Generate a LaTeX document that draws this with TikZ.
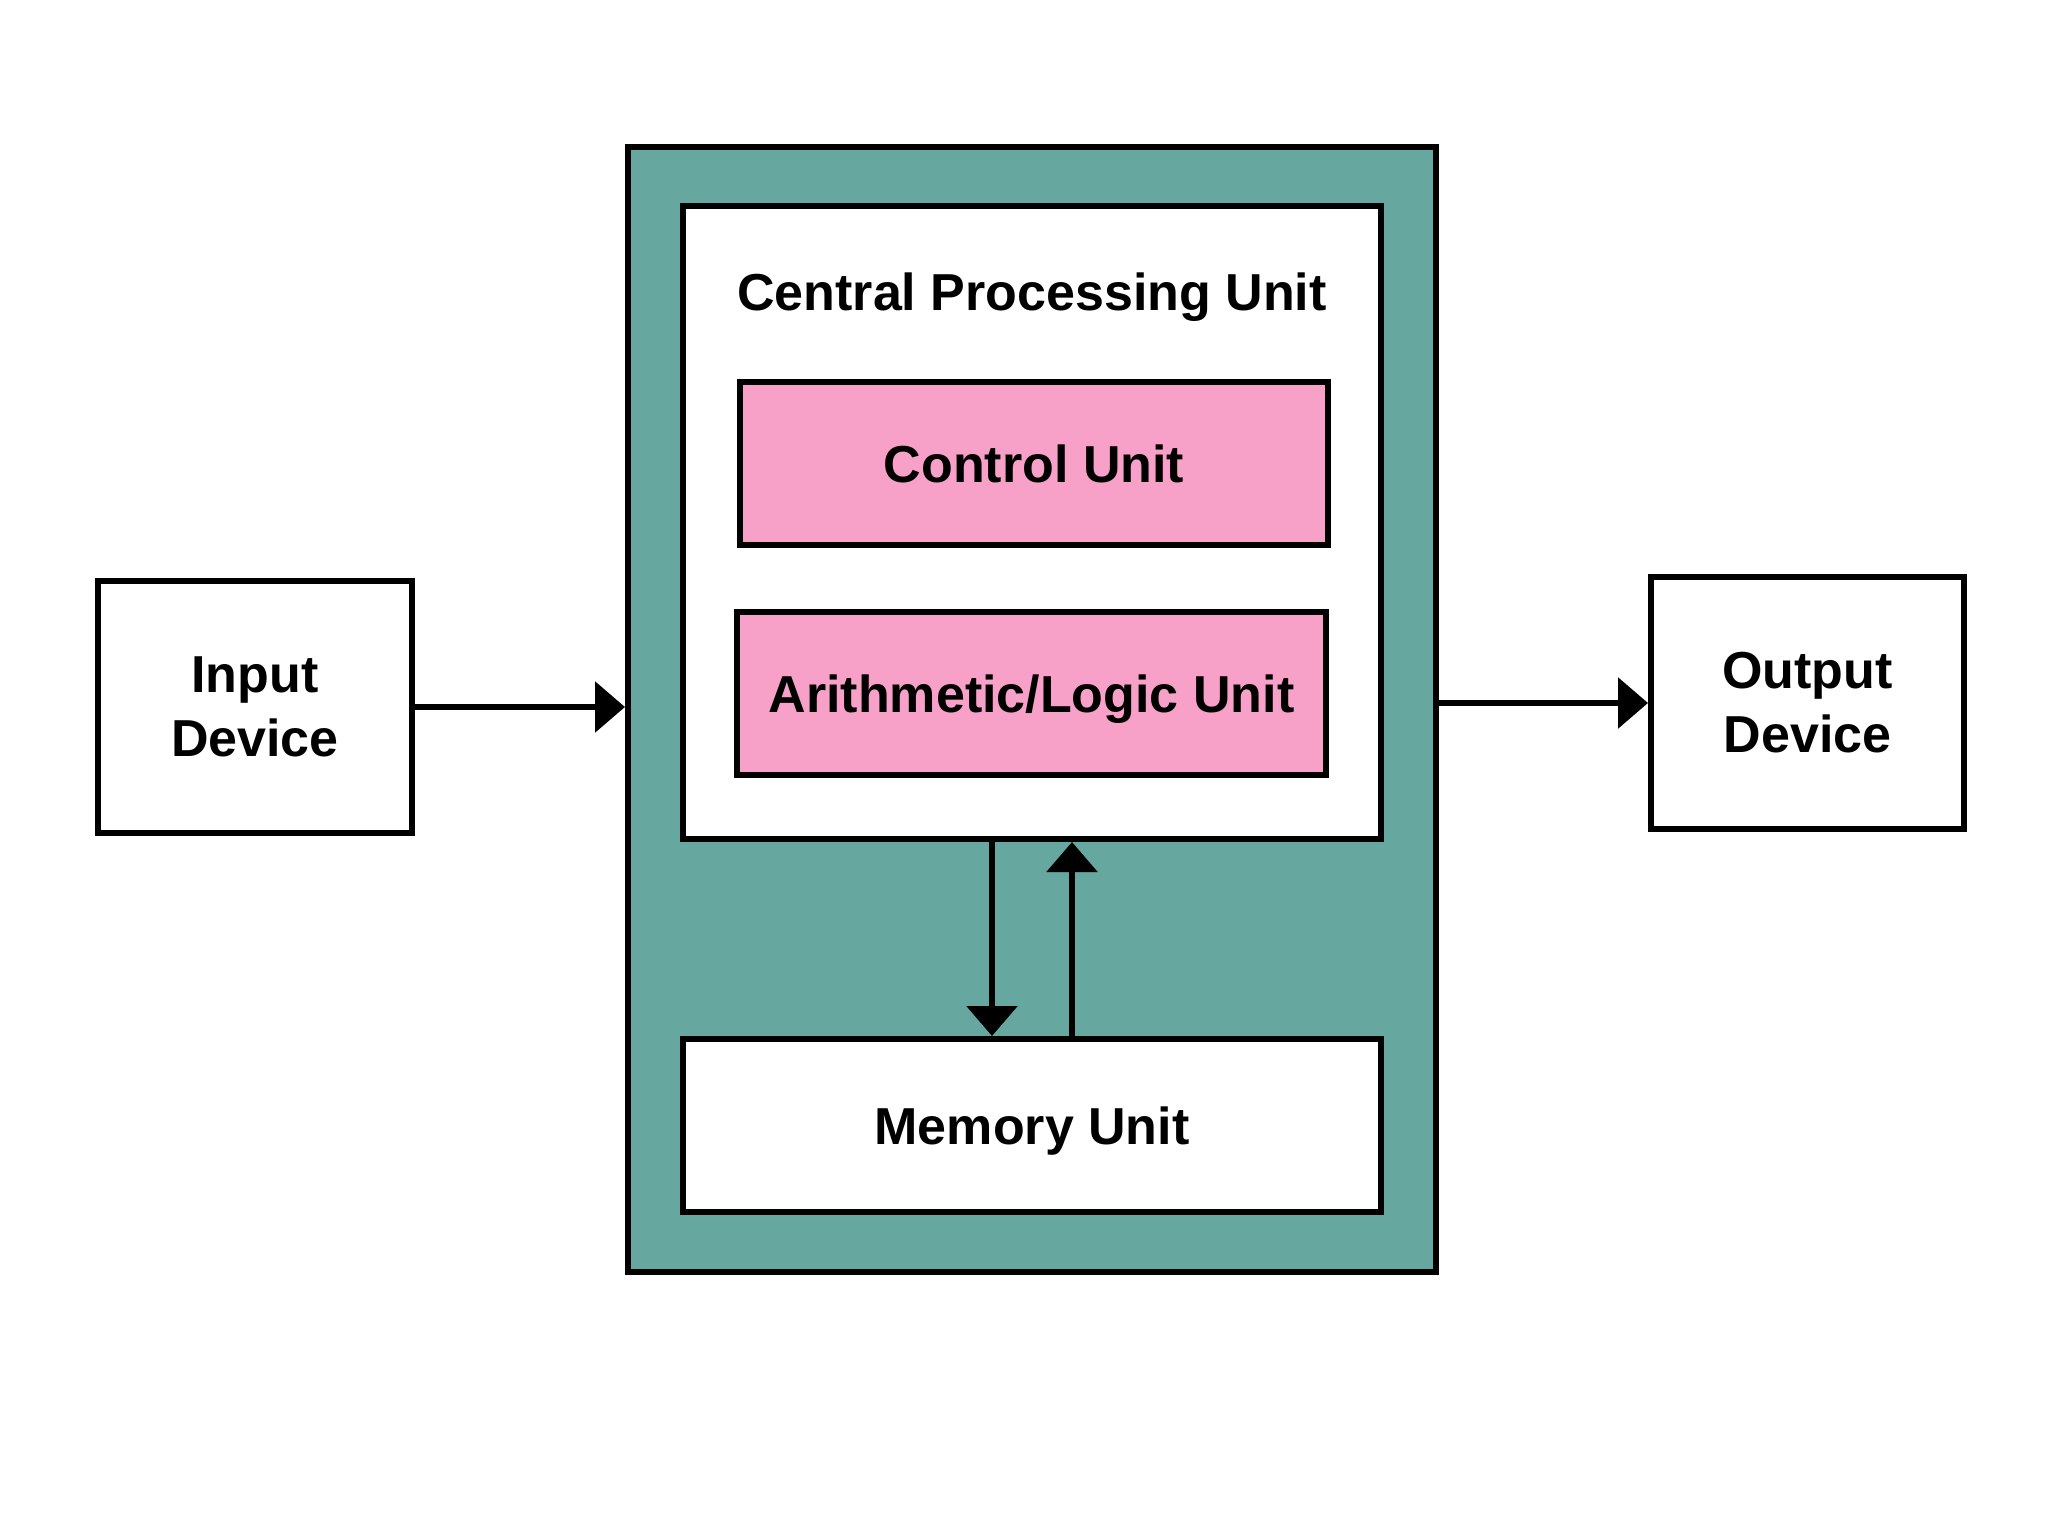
\documentclass[tikz,border=0pt]{standalone}
\usepackage{fontspec}
\setmainfont{Liberation Sans}
\usetikzlibrary{arrows.meta}
\definecolor{tealfill}{RGB}{102,168,160}
\definecolor{pinkfill}{RGB}{247,160,200}
\begin{document}
\begin{tikzpicture}[x=1pt,y=-1pt,
  box/.style={draw=black, line width=6pt, rectangle, inner sep=0pt, align=center,
    font=\fontsize{52}{64}\selectfont\bfseries},
  single/.style={text height=38pt, text depth=0pt},
  label/.style={inner sep=0pt, font=\fontsize{52}{64}\selectfont\bfseries},
  arr/.style={line width=6pt, -{Triangle[length=30pt,width=50pt]}}]
\useasboundingbox (0,0) rectangle (2048,1536);
\fill[white] (0,0) rectangle (2048,1536);
% outer teal box
\node[box, fill=tealfill, minimum width=808pt, minimum height=1125pt] (outer) at (1032,709.5) {};
% CPU box
\node[box, fill=white, minimum width=698pt, minimum height=633pt] (cpu) at (1032,522.5) {};
\node[label, anchor=base] (title) at (1032,310) {Central Processing Unit};
% control unit
\node[box, single, fill=pinkfill, minimum width=588pt, minimum height=163pt] (cu) at (1034,463.5) {Control Unit};
% ALU
\node[box, single, fill=pinkfill, minimum width=589pt, minimum height=163pt] (alu) at (1031.5,693.5) {Arithmetic/Logic Unit};
% memory
\node[box, single, fill=white, minimum width=698pt, minimum height=173pt] (mem) at (1032,1125.5) {Memory Unit};
% input / output
\node[box, fill=white, minimum width=314pt, minimum height=252pt] (inp) at (255,707) {Input\\Device};
\node[box, fill=white, minimum width=313pt, minimum height=252pt] (outp) at (1807.5,703) {Output\\Device};
% connectors
\draw[arr] (inp.east) -- (outer.west |- inp.east);
\draw[arr] (outer.east |- outp.west) -- (outp.west);
\draw[arr] ([xshift=-40pt]cpu.south) -- ([xshift=-40pt]mem.north);
\draw[arr] ([xshift=40pt]mem.north) -- ([xshift=40pt]cpu.south);
\end{tikzpicture}
\end{document}
